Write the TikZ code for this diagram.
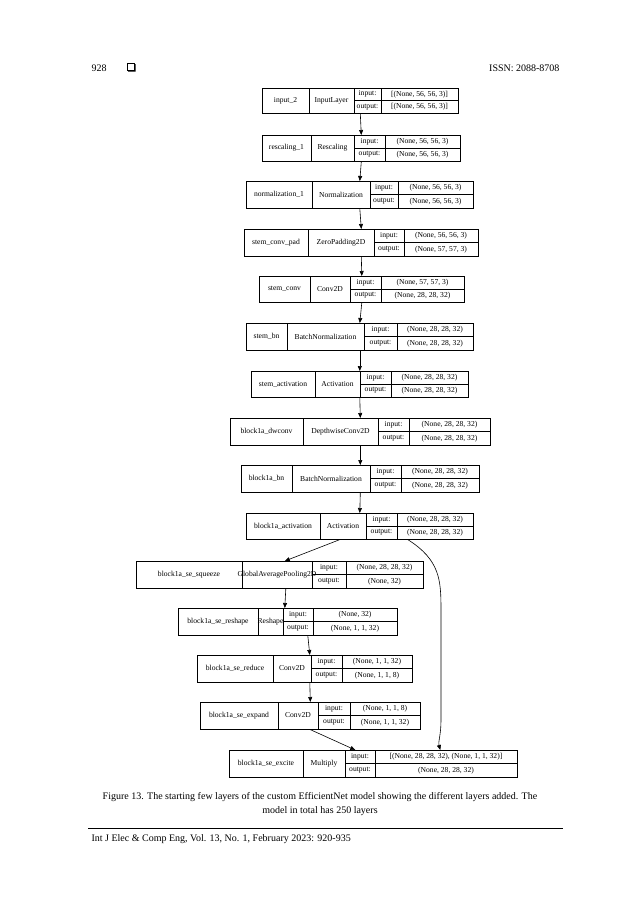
\documentclass[tikz,border=0pt]{standalone}
\usepackage{fontspec}
\setmainfont{Liberation Serif}
\usetikzlibrary{arrows.meta}
\newcommand\blk[8]{%
  \gdef\xa{#2}\gdef\xb{#3}\gdef\xc{#4}\gdef\xd{#5}\gdef\xe{#6}\gdef\ya{#7}\gdef\yb{#8}%
  \pgfmathsetmacro\ww{#6-#2}\pgfmathsetmacro\hh{#8-#7}%
  \node[draw,line width=0.6pt,inner sep=0pt,minimum width=\ww pt,minimum height=\hh pt,anchor=north west] (#1) at (#2,#7) {};
  \draw[line width=0.6pt] (#3,#7)--(#3,#8) (#4,#7)--(#4,#8) (#5,#7)--(#5,#8);
  \pgfmathsetmacro\ym{(#7+#8)/2}\draw[line width=0.6pt] (#4,\ym)--(#6,\ym);}
\newcommand\txt[4]{%
  \pgfmathsetmacro\ym{(\ya+\yb)/2}\pgfmathsetmacro\yu{(3*\ya+\yb)/4}\pgfmathsetmacro\yl{(\ya+3*\yb)/4}%
  \node[lt] at ({(\xa+\xb)/2},\ym) {#1};
  \node[lt] at ({(\xb+\xc)/2},\ym) {#2};
  \node[lt] at ({(\xc+\xd)/2},\yu) {input:};
  \node[lt] at ({(\xc+\xd)/2},\yl) {output:};
  \node[lt] at ({(\xd+\xe)/2},\yu) {#3};
  \node[lt] at ({(\xd+\xe)/2},\yl) {#4};}
\begin{document}
\begin{tikzpicture}[x=1pt,y=-1pt,lt/.style={inner sep=0pt,font=\fontsize{7.6}{8}\selectfont},
 ar/.style={-{Triangle[length=5pt,width=4pt]},line width=0.6pt}]
\useasboundingbox[fill=white] (0,0) rectangle (638,902);
\node[anchor=base west,font=\fontsize{10}{12}\selectfont] (pg) at (88,71) {928};
\draw[line width=0.5pt] (127,63) rectangle (134,70);
\fill (134,64) rectangle (135.5,71.5) (128,70) rectangle (135.5,71.5);
\node[anchor=base east,font=\fontsize{10}{12}\selectfont] (issn) at (563,71) {ISSN: 2088-8708};
\blk{b1}{262}{309}{354}{381}{458}{88}{113}\txt{input\_2}{InputLayer}{[(None, 56, 56, 3)]}{[(None, 56, 56, 3)]}
\blk{b2}{262}{311}{354}{385}{460}{135}{161}\txt{rescaling\_1}{Rescaling}{(None, 56, 56, 3)}{(None, 56, 56, 3)}
\blk{b3}{246}{312}{370}{398}{473}{181}{208}\txt{normalization\_1}{Normalization}{(None, 56, 56, 3)}{(None, 56, 56, 3)}
\blk{b4}{244}{308}{374}{404}{478}{229}{256}\txt{stem\_conv\_pad}{ZeroPadding2D}{(None, 56, 56, 3)}{(None, 57, 57, 3)}
\blk{b5}{259}{310}{350}{381}{464}{276}{302}\txt{stem\_conv}{Conv2D}{(None, 57, 57, 3)}{(None, 28, 28, 32)}
\blk{b6}{246}{287}{364}{397}{473}{323}{350}\txt{stem\_bn}{BatchNormalization}{(None, 28, 28, 32)}{(None, 28, 28, 32)}
\blk{b7}{251}{315}{360}{391}{468}{371}{397}\txt{stem\_activation}{Activation}{(None, 28, 28, 32)}{(None, 28, 28, 32)}
\blk{b8}{230}{303}{378}{409}{490}{418}{445}\txt{block1a\_dwconv}{DepthwiseConv2D}{(None, 28, 28, 32)}{(None, 28, 28, 32)}
\blk{b9}{241}{292}{370}{401}{479}{465}{492}\txt{block1a\_bn}{BatchNormalization}{(None, 28, 28, 32)}{(None, 28, 28, 32)}
\blk{b10}{246}{320}{366}{397}{473}{513}{539}\txt{block1a\_activation}{Activation}{(None, 28, 28, 32)}{(None, 28, 28, 32)}
\blk{b11}{136}{242}{312}{346}{423}{561}{588}\txt{block1a\_se\_squeeze}{GlobalAveragePooling2D}{(None, 28, 28, 32)}{(None, 32)}
\blk{b12}{178}{258}{283}{313}{397}{608}{635}\txt{block1a\_se\_reshape}{Reshape}{(None, 32)}{(None, 1, 1, 32)}
\blk{b13}{197}{273}{311}{342}{412}{655}{682}\txt{block1a\_se\_reduce}{Conv2D}{(None, 1, 1, 32)}{(None, 1, 1, 8)}
\blk{b14}{200}{278}{318}{350}{420}{702}{729}\txt{block1a\_se\_expand}{Conv2D}{(None, 1, 1, 8)}{(None, 1, 1, 32)}
\blk{b15}{229}{303}{345}{375}{517}{750}{777}\txt{block1a\_se\_excite}{Multiply}{[(None, 28, 28, 32), (None, 1, 1, 32)]}{(None, 28, 28, 32)}
\foreach \p/\q in {b1/b2,b2/b3,b3/b4,b4/b5,b5/b6,b6/b7,b7/b8,b8/b9,b9/b10}
  \draw[ar] (\p.south)--(\q.north);
\draw[ar] ([xshift=-20pt]b10.south)--([xshift=5pt]b11.north);
\draw[ar] ([xshift=6pt]b11.south)--([xshift=-3pt]b12.north);
\draw[ar] ([xshift=20pt]b12.south)--([xshift=5pt]b13.north);
\draw[ar] ([xshift=5pt]b13.south)--([xshift=0pt]b14.north);
\draw[ar] ([xshift=0pt]b14.south)--([xshift=-18pt]b15.north);
\draw[ar] ([xshift=48pt]b10.south) .. controls (440,560) and (441,580) .. (441,610) -- (441,720) .. controls (441,735) and (438,742) .. ([xshift=67pt]b15.north);
\node[align=center,font=\fontsize{10}{13.5}\selectfont] (cap) at (320,804) {Figure 13. The starting few layers of the custom EfficientNet model showing the different layers added. The\\ model in total has 250 layers};
\draw[line width=0.6pt] (88,828)--(563,828);
\node[anchor=base west,font=\fontsize{10}{12}\selectfont] (ft) at (88,841) {Int J Elec \& Comp Eng, Vol. 13, No. 1, February 2023: 920-935};
\end{tikzpicture}
\end{document}
